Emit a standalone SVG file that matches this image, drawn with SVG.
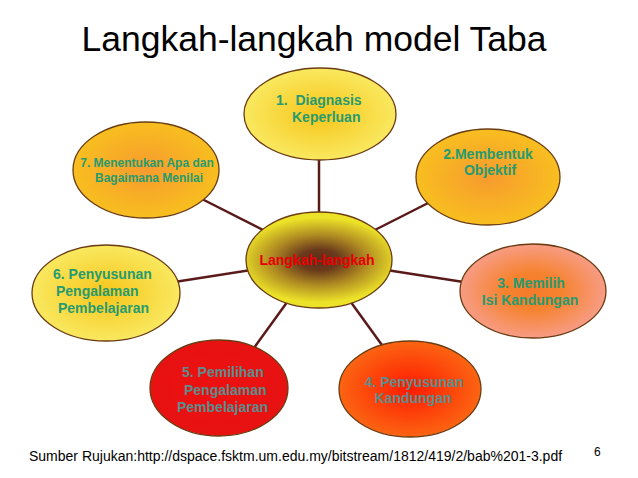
<svg xmlns="http://www.w3.org/2000/svg" width="638" height="478" viewBox="0 0 638 478">
<defs>
<radialGradient id="gYellow" cx="50%" cy="50%" r="55%"><stop offset="0" stop-color="#f7c51a"/><stop offset="1" stop-color="#f9ec66"/></radialGradient>
<radialGradient id="gOrange" cx="50%" cy="50%" r="55%"><stop offset="0" stop-color="#f79a2e"/><stop offset="1" stop-color="#f8c21e"/></radialGradient>
<radialGradient id="gSalmon" cx="50%" cy="50%" r="55%"><stop offset="0" stop-color="#f57a2a"/><stop offset="0.35" stop-color="#f6822e"/><stop offset="1" stop-color="#f7a092"/></radialGradient>
<radialGradient id="gRedOr" cx="50%" cy="50%" r="55%"><stop offset="0" stop-color="#ff1a00"/><stop offset="1" stop-color="#fb6c14"/></radialGradient>
<radialGradient id="gRed" cx="50%" cy="50%" r="55%"><stop offset="0" stop-color="#ee1010"/><stop offset="1" stop-color="#e61212"/></radialGradient>
<radialGradient id="gCenter" cx="50%" cy="50%" r="55%" fx="50%" fy="50%" gradientTransform="translate(0.5 0.5) scale(1 0.8) translate(-0.5 -0.5)"><stop offset="0" stop-color="#5e2c1c"/><stop offset="0.25" stop-color="#6a3a1c"/><stop offset="0.6" stop-color="#b08c22"/><stop offset="1" stop-color="#ece228"/></radialGradient>
<style>
.nd{stroke:#6b3c12;stroke-width:1.3}
.tx{font-family:"Liberation Sans",Arial,sans-serif;font-weight:bold;font-size:14px;fill:#279b70;white-space:pre}
.tg{fill:#5c8d8c}
.t12{font-size:12px}
.cn{stroke:#5a1a1a;stroke-width:2.5;fill:none}
</style>
</defs>
<rect width="638" height="478" fill="#ffffff"/>
<text x="314" y="51" text-anchor="middle" font-family="'Liberation Sans',Arial,sans-serif" font-size="35.5" fill="#000">Langkah-langkah model Taba</text>
<g id="connectors">
<line class="cn" x1="319" y1="150" x2="319" y2="225"/>
<line class="cn" x1="365" y1="235" x2="440" y2="197"/>
<line class="cn" x1="380" y1="269" x2="470" y2="283"/>
<line class="cn" x1="345" y1="294" x2="387" y2="352"/>
<line class="cn" x1="293" y1="294" x2="251" y2="352"/>
<line class="cn" x1="258" y1="269" x2="168" y2="283"/>
<line class="cn" x1="273" y1="235" x2="198" y2="197"/>
</g>
<g id="center">
<ellipse class="nd" cx="319" cy="260" rx="73" ry="48" fill="url(#gCenter)"/>
<text class="tx" x="317" y="265" text-anchor="middle" style="fill:#e80000">Langkah-langkah</text>
</g>
<g id="n1">
<ellipse class="nd" cx="320" cy="114" rx="76" ry="46" fill="url(#gYellow)"/>
<text class="tx" x="276" y="105" xml:space="preserve">1.  Diagnasis</text>
<text class="tx" x="292" y="122">Keperluan</text>
</g>
<g id="n2">
<ellipse class="nd" cx="488" cy="177" rx="72" ry="48" fill="url(#gOrange)"/>
<text class="tx" x="488" y="159" text-anchor="middle">2.Membentuk</text>
<text class="tx" x="490" y="175" text-anchor="middle">Objektif</text>
</g>
<g id="n3">
<ellipse class="nd" cx="533" cy="291" rx="73" ry="47" fill="url(#gSalmon)"/>
<text class="tx" x="531" y="288" text-anchor="middle">3. Memilih</text>
<text class="tx" x="530" y="305" text-anchor="middle">Isi Kandungan</text>
</g>
<g id="n4">
<ellipse class="nd" cx="410" cy="389" rx="71" ry="48" fill="url(#gRedOr)"/>
<text class="tx tg" x="414" y="387" text-anchor="middle">4. Penyusunan</text>
<text class="tx tg" x="413" y="403" text-anchor="middle">Kandungan</text>
</g>
<g id="n5">
<ellipse class="nd" cx="219" cy="388" rx="69" ry="48" fill="url(#gRed)"/>
<text class="tx tg" x="182" y="377">5. Pemilihan</text>
<text class="tx tg" x="184" y="395">Pengalaman</text>
<text class="tx tg" x="177" y="412">Pembelajaran</text>
</g>
<g id="n6">
<ellipse class="nd" cx="106" cy="293" rx="74" ry="48" fill="url(#gYellow)"/>
<text class="tx" x="53" y="279">6. Penyusunan</text>
<text class="tx" x="56" y="296">Pengalaman</text>
<text class="tx" x="58" y="313">Pembelajaran</text>
</g>
<g id="n7">
<ellipse class="nd" cx="146" cy="170" rx="73" ry="48" fill="url(#gOrange)"/>
<text class="tx t12" x="147" y="167" text-anchor="middle">7. Menentukan Apa dan</text>
<text class="tx t12" x="149" y="182" text-anchor="middle">Bagaimana Menilai</text>
</g>
<text x="29" y="461" font-family="'Liberation Sans',Arial,sans-serif" font-size="14" fill="#000">Sumber Rujukan:http://dspace.fsktm.um.edu.my/bitstream/1812/419/2/bab%201-3.pdf</text>
<text x="594" y="456" font-family="'Liberation Sans',Arial,sans-serif" font-size="12" fill="#000">6</text>
</svg>
